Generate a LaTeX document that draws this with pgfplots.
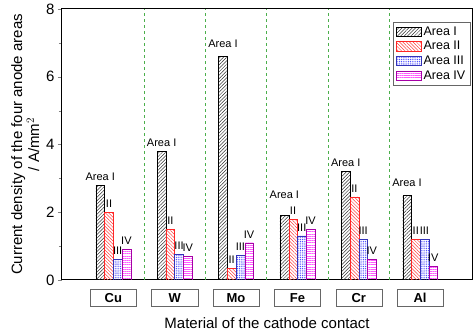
\documentclass[border=0pt]{standalone}
\usepackage{fontspec}
\setmainfont{Liberation Sans}
\usepackage{pgfplots}
\usepackage{pgfplotstable}
\pgfplotsset{compat=1.18}
\usetikzlibrary{patterns,patterns.meta}

\pgfplotstableread{
x y dy
0 2.8 0
1 3.8 0
2 6.6 4
3 1.9 12
4 3.2 0
5 2.5 4
}\areaone
\pgfplotstableread{
x y
0 2.0
1 1.5
2 0.35
3 1.8
4 2.45
5 1.2
}\areatwo
\pgfplotstableread{
x y
0 0.6
1 0.75
2 0.72
3 1.3
4 1.2
5 1.2
}\areathree
\pgfplotstableread{
x y
0 0.9
1 0.7
2 1.1
3 1.5
4 0.6
5 0.4
}\areafour

\begin{document}
\begin{tikzpicture}
\begin{axis}[
  name=ax,
  scale only axis,
  width=410pt, height=271pt,
  xmin=-0.837, xmax=5.846,
  ymin=0, ymax=8,
  ybar=0pt, bar width=8.7pt,
  xtick={0,...,5},
  xticklabels={Cu,W,Mo,Fe,Cr,Al},
  xtick style={draw=none},
  xticklabel style={draw=black!60, fill=white, minimum width=46pt, minimum height=17pt, inner sep=0pt,
    font=\fontsize{13}{15}\selectfont\bfseries, anchor=north, yshift=-5pt},
  ytick={0,2,4,6,8},
  minor ytick={1,3,5,7},
  ytick pos=left, tick align=outside,
  major tick length=4pt, minor tick length=3pt,
  yticklabel style={font=\fontsize{15}{17}\selectfont},
  /pgf/number format/assume math mode=true,
  extra x ticks={0.5,1.5,2.5,3.5,4.5},
  extra x tick labels={},
  extra x tick style={grid=major,
    major grid style={green!55!black!70, dash pattern=on 3pt off 3pt, line width=0.5pt},
    tick style={draw=none},
    xticklabel style={draw=none, fill=none, minimum width=0pt, minimum height=0pt}},
  axis line style={line width=1pt},
  xlabel={Material of the cathode contact},
  ylabel={Current density of the four anode areas\\/ A/mm$^2$},
  ylabel style={align=center, font=\fontsize{15}{17}\selectfont},
  xlabel style={font=\fontsize{15}{17}\selectfont},
  nodes near coords style={font=\fontsize{11}{13}\selectfont, inner sep=1.5pt, text=black, yshift=3pt},
  legend style={at={(0.995,0.952)}, anchor=north east, font=\fontsize{12.5}{14}\selectfont,
    draw=black!60, row sep=0.5pt, inner sep=2.5pt},
  legend cell align=left,
  legend image code/.code={\draw[#1] (0pt,-4.7pt) rectangle (25pt,4.7pt);},
]
\addplot[draw=black, pattern={Lines[angle=45,distance=2.4pt,line width=0.5pt]}, pattern color=black!80,
  visualization depends on={\thisrow{dy} \as \dy},
  every node near coord/.append style={yshift=\dy},
  nodes near coords={Area I}]
  table[x=x,y=y] {\areaone};
\addplot[draw=red!85, pattern={Lines[angle=-45,distance=2.4pt,line width=0.5pt]}, pattern color=red!75,
  nodes near coords={II}]
  table[x=x,y=y] {\areatwo};
\addplot[draw=blue!65!black!80, pattern={Dots[distance=1.8pt,radius=0.55pt]}, pattern color=blue!75,
  nodes near coords={III}]
  table[x=x,y=y] {\areathree};
\addplot[draw=violet!70!magenta, pattern={Lines[angle=0,distance=2.2pt,line width=0.5pt]}, pattern color=magenta!65,
  nodes near coords={IV}]
  table[x=x,y=y] {\areafour};
\legend{Area I, Area II, Area III, Area IV}
\end{axis}
\pgfresetboundingbox
\path[use as bounding box] ([shift={(-62pt,-55pt)}]ax.south west) rectangle ([shift={(2pt,9pt)}]ax.north east);
\end{tikzpicture}
\end{document}
